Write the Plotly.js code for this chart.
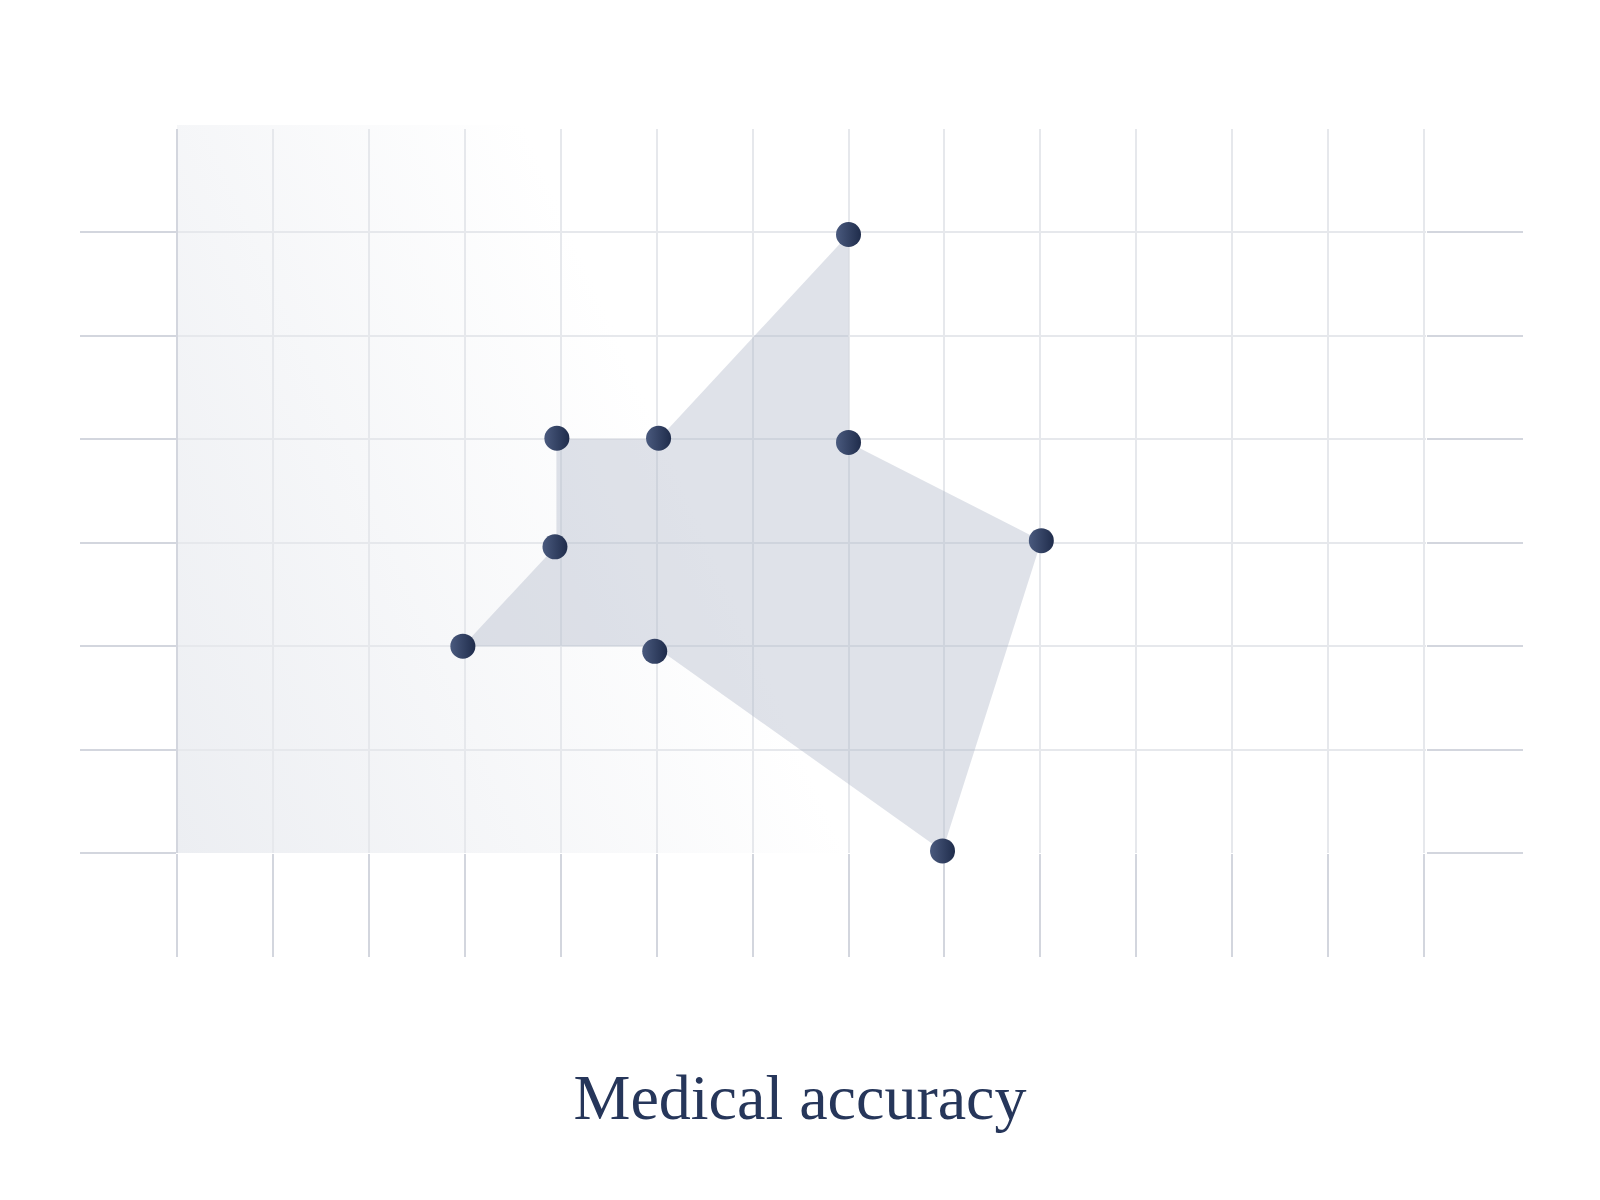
<!DOCTYPE html>
<html>
<head>
<meta charset="utf-8">
<script src="https://cdn.plot.ly/plotly-3.0.1.min.js"></script>
<style>
  html, body { margin: 0; padding: 0; background: #ffffff; }
  #chart { width: 1600px; height: 1200px; }
</style>
</head>
<body>
<div id="chart"></div>
<script>
// Data
// polygon outline (filled area)
const areaX = [2.98, 3.955, 3.955, 5.02, 7.0, 7.0, 9.01, 7.98, 4.98];
const areaY = [2.0, 2.97, 4.0, 4.0, 5.98, 3.97, 3.02, 0.02, 2.0];
// point markers
const pointX = [2.98, 3.94, 3.96, 5.02, 7.0, 7.0, 9.01, 7.98, 4.98];
const pointY = [2.0, 2.96, 4.01, 4.01, 5.98, 3.97, 3.02, 0.02, 1.95];
const xTicks = [0, 1, 2, 3, 4, 5, 6, 7, 8, 9, 10, 11, 12, 13];
const yTicks = [0, 1, 2, 3, 4, 5, 6];
const titleText = "Medical accuracy";

const gradSvg =
  '<svg xmlns="http://www.w3.org/2000/svg" width="1248" height="728" viewBox="0 0 1248 728">' +
  '<defs><linearGradient id="g" gradientUnits="userSpaceOnUse" x1="0" y1="728" x2="560" y2="480">' +
  '<stop offset="0" stop-color="#eceef2"/>' +
  '<stop offset="1" stop-color="#ffffff"/>' +
  '</linearGradient></defs>' +
  '<rect x="0" y="0" width="1248" height="728" fill="url(#g)"/></svg>';
const gradUri = 'data:image/svg+xml;base64,' + btoa(gradSvg);

const areaTrace = {
  type: 'scatter',
  x: areaX,
  y: areaY,
  mode: 'lines',
  fill: 'toself',
  fillcolor: 'rgba(170,180,198,0.38)',
  line: { width: 0, color: 'rgba(0,0,0,0)' },
  hoverinfo: 'skip',
  showlegend: false
};

const pointTrace = {
  type: 'scatter',
  x: pointX,
  y: pointY,
  mode: 'markers',
  cliponaxis: false,
  marker: {
    size: 25,
    color: '#4a5a7e',
    gradient: { type: 'horizontal', color: '#1f2c4b' },
    line: { width: 0 }
  },
  hoverinfo: 'skip',
  showlegend: false
};

const gridColor = '#e6e8ec';
const tickColor = '#d3d6de';

const layout = {
  width: 1600,
  height: 1200,
  margin: { l: 177, r: 174, t: 129, b: 347, pad: 0 },
  paper_bgcolor: '#ffffff',
  plot_bgcolor: 'rgba(0,0,0,0)',
  showlegend: false,
  title: {
    text: titleText,
    font: { family: 'Liberation Serif, serif', size: 64, color: '#26365a' },
    x: 0.5, xref: 'container', xanchor: 'center',
    y: 0.086, yref: 'container', yanchor: 'middle'
  },
  xaxis: {
    range: [0, 13.02],
    tickmode: 'array',
    tickvals: xTicks,
    showticklabels: false,
    showgrid: true,
    gridcolor: gridColor,
    gridwidth: 2,
    zeroline: true,
    zerolinecolor: tickColor,
    zerolinewidth: 2,
    showline: false,
    ticks: 'outside',
    ticklen: 103,
    tickwidth: 2,
    tickcolor: tickColor,
    layer: 'below traces',
    fixedrange: true
  },
  yaxis: {
    range: [0, 7],
    tickmode: 'array',
    tickvals: yTicks,
    showticklabels: false,
    showgrid: true,
    gridcolor: gridColor,
    gridwidth: 2,
    zeroline: false,
    showline: false,
    ticks: 'outside',
    ticklen: 96,
    tickwidth: 2,
    tickcolor: tickColor,
    mirror: 'ticks',
    layer: 'below traces',
    fixedrange: true
  },
  images: [{
    source: gradUri,
    xref: 'paper', yref: 'paper',
    x: 0, y: 1.0055,
    sizex: 0.9985, sizey: 1.0055,
    xanchor: 'left', yanchor: 'top',
    sizing: 'stretch',
    layer: 'below'
  }]
};

Plotly.newPlot('chart', [areaTrace, pointTrace], layout, { displayModeBar: false, staticPlot: true });
</script>
</body>
</html>
